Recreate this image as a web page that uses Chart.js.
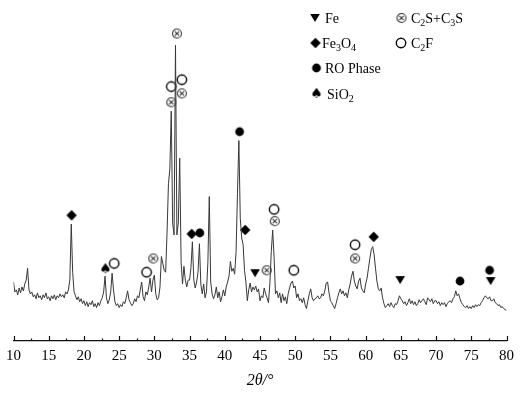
<!DOCTYPE html>
<html>
<head>
<meta charset="utf-8">
<script src="https://cdn.jsdelivr.net/npm/chart.js@4.4.1/dist/chart.umd.min.js"></script>
<style>
  html, body { margin: 0; padding: 0; background: #fff; }
  #wrap { width: 520px; height: 398px; position: relative; }
</style>
</head>
<body>
<div id="wrap"><canvas id="xrd"></canvas></div>
<script>
// XRD scan, 10-80 deg, one reading every 0.2 deg
const thetaStart = 10;
const thetaStep = 0.2;
const intensity = [
  60, 50, 52, 47, 54,   49, 55, 51, 58, 62,   74, 52, 48, 50, 45,   47, 43, 49, 44, 46,
  42, 47, 44, 49, 43,   45, 41, 46, 43, 47,   42, 46, 44, 48, 45,   47, 44, 50, 48, 52,
  62, 119, 70, 50, 46,  42, 45, 40, 43, 38,   41, 36, 40, 35, 39,   37, 41, 35, 38, 34,
  39, 36, 41, 44, 50,   66, 44, 38, 42, 50,   69, 52, 40, 36, 38,   34, 37, 35, 40, 38,
  44, 51, 42, 39, 36,   38, 43, 40, 46, 44,   52, 60, 45, 41, 50,   47, 55, 64, 50, 62,
  67, 48, 42, 44, 55,   86, 79, 72, 70, 110,  160, 175, 234, 120, 108, 301, 108, 120, 186, 80,
  58, 76, 62, 55, 62,   62, 75, 101, 62, 54,  60, 70, 99, 58, 48,   58, 44, 50, 80, 147,
  60, 48, 43, 47, 55,   44, 50, 40, 45, 52,   46, 55, 60, 66, 81,   71, 74, 68, 90, 150,
  204, 125, 105, 98, 72, 60, 41, 52, 59, 50,  55, 52, 56, 50, 53,   41, 46, 44, 54, 48,
  44, 39, 58, 91, 113,  85, 48, 51, 44, 49,   39, 48, 41, 45, 38,   48, 54, 59, 61, 54,
  56, 44, 48, 41, 43,   39, 44, 37, 33, 41,   48, 53, 44, 41, 43,   44, 46, 43, 44, 48,
  46, 51, 59, 60, 49,   41, 39, 36, 33, 38,   44, 49, 53, 48, 51,   46, 49, 44, 52, 58,
  66, 71, 61, 56, 53,   61, 64, 54, 51, 49,   58, 64, 74, 84, 93,   96, 88, 74, 61, 53,
  51, 54, 44, 38, 34,   36, 38, 35, 39, 36,   34, 38, 37, 41, 46,   43, 41, 38, 40, 36,
  39, 43, 38, 41, 37,   40, 36, 38, 42, 39,   41, 43, 40, 37, 44,   42, 40, 43, 38, 41,
  41, 38, 40, 36, 39,   37, 39, 35, 38, 40,   41, 39, 43, 45, 51,   46, 48, 43, 39, 37,
  35, 34, 36, 33, 35,   33, 36, 34, 37, 35,   37, 36, 39, 41, 44,   46, 44, 43, 45, 41,
  41, 43, 39, 38, 36,   37, 34, 35, 33, 32,   31
];
const twoTheta = intensity.map((_, i) => +(thetaStart + i * thetaStep).toFixed(1));

// phase markers: peak position and height where the symbol sits
const feTheta = [44.3, 64.9, 77.75];
const feLevel = [69, 62, 61];
const fe3o4Theta = [18.25, 35.3, 42.9, 61.15];
const fe3o4Level = [128, 109, 113, 106];
const roTheta = [36.45, 42.1, 73.4, 77.6];
const roLevel = [110, 213, 61, 72];
const sio2Theta = [23.05];
const sio2Level = [73];
const csTheta = [29.85, 32.4, 33.2, 33.9, 45.95, 47.1, 58.5];
const csLevel = [84, 243, 313, 252, 72, 122, 84];
const c2fTheta = [24.3, 28.9, 32.4, 33.9, 47.0, 49.8, 58.5];
const c2fLevel = [79, 70, 259, 266, 134, 72, 98];

const xTicks = [10, 15, 20, 25, 30, 35, 40, 45, 50, 55, 60, 65, 70, 75, 80];

const serif = "'Liberation Serif', 'Times New Roman', serif";

function makeMarker(kind) {
    const c = document.createElement('canvas');
    c.width = 14;
    c.height = 14;
    const g = c.getContext('2d');
    const m = 7;
    g.fillStyle = '#000';
    g.strokeStyle = '#000';
    g.beginPath();
    if (kind === 'down') {
        g.moveTo(m - 4.8, m - 4);
        g.lineTo(m + 4.8, m - 4);
        g.lineTo(m, m + 4);
        g.closePath();
        g.fill();
    } else if (kind === 'diamond') {
        g.moveTo(m, m - 5.2);
        g.lineTo(m + 5.2, m);
        g.lineTo(m, m + 5.2);
        g.lineTo(m - 5.2, m);
        g.closePath();
        g.fill();
    } else if (kind === 'dot') {
        g.arc(m, m, 4.4, 0, Math.PI * 2);
        g.fill();
    } else if (kind === 'spade') {
        g.font = "14px 'DejaVu Sans'";
        g.textAlign = 'center';
        g.textBaseline = 'middle';
        g.fillText('\u2660', m, m + 0.5);
    } else if (kind === 'cross') {
        g.strokeStyle = '#333';
        g.lineWidth = 1.1;
        g.arc(m, m, 4.5, 0, Math.PI * 2);
        g.stroke();
        g.beginPath();
        g.moveTo(m - 2.2, m - 2.2);
        g.lineTo(m + 2.2, m + 2.2);
        g.moveTo(m + 2.2, m - 2.2);
        g.lineTo(m - 2.2, m + 2.2);
        g.stroke();
    } else if (kind === 'ring') {
        g.lineWidth = 1.4;
        g.arc(m, m, 4.7, 0, Math.PI * 2);
        g.stroke();
    }
    return c;
}

const markers = {
    down: makeMarker('down'),
    diamond: makeMarker('diamond'),
    dot: makeMarker('dot'),
    spade: makeMarker('spade'),
    cross: makeMarker('cross'),
    ring: makeMarker('ring')
};

function toPoints(xs, ys) {
    return xs.map((x, i) => ({ x: x, y: ys[i] }));
}

function markerSet(label, xs, ys, style) {
    return {
        label: label,
        data: toPoints(xs, ys),
        showLine: false,
        pointStyle: markers[style],
        pointRadius: 5,
        pointHoverRadius: 5
    };
}

// legend entries: marker, text pieces [text, isSubscript]
const legendItems = [
    { m: 'down', x: 315, y: 18, tx: 325, parts: [['Fe', false]] },
    { m: 'diamond', x: 315.5, y: 43, tx: 322, parts: [['Fe', false], ['3', true], ['O', false], ['4', true]] },
    { m: 'dot', x: 316.5, y: 68, tx: 325, parts: [['RO Phase', false]] },
    { m: 'spade', x: 316.5, y: 94, tx: 327, parts: [['SiO', false], ['2', true]] },
    { m: 'cross', x: 401.5, y: 18, tx: 411, parts: [['C', false], ['2', true], ['S+C', false], ['3', true], ['S', false]] },
    { m: 'ring', x: 401, y: 43, tx: 411, parts: [['C', false], ['2', true], ['F', false]] }
];

const decorPlugin = {
    id: 'decor',
    afterDraw(chart) {
        const ctx = chart.ctx;
        const xs = chart.scales.x;
        const base = xs.top;
        ctx.save();
        ctx.strokeStyle = '#111';
        ctx.lineWidth = 1.2;
        for (let v = 10; v <= 80; v += 2.5) {
            const px = Math.round(xs.getPixelForValue(v)) + 0.5;
            const len = v % 5 === 0 ? 5 : 2.5;
            ctx.beginPath();
            ctx.moveTo(px, base);
            ctx.lineTo(px, base - len);
            ctx.stroke();
        }

        ctx.fillStyle = '#000';
        ctx.textBaseline = 'alphabetic';
        legendItems.forEach(item => {
            const mk = markers[item.m];
            ctx.drawImage(mk, item.x - mk.width / 2, item.y - mk.height / 2);
            let tx = item.tx;
            item.parts.forEach(([txt, sub]) => {
                ctx.font = sub ? `10px ${serif}` : `14px ${serif}`;
                ctx.fillText(txt, tx, item.y + 5 + (sub ? 3 : 0));
                tx += ctx.measureText(txt).width;
            });
        });
        ctx.restore();
    }
};

new Chart(document.getElementById('xrd'), {
    type: 'line',
    data: {
        datasets: [
            {
                label: 'XRD',
                data: toPoints(twoTheta, intensity),
                borderColor: '#383838',
                borderWidth: 1,
                pointRadius: 0,
                tension: 0,
                fill: false
            },
            markerSet('Fe', feTheta, feLevel, 'down'),
            markerSet('Fe3O4', fe3o4Theta, fe3o4Level, 'diamond'),
            markerSet('RO Phase', roTheta, roLevel, 'dot'),
            markerSet('SiO2', sio2Theta, sio2Level, 'spade'),
            markerSet('C2S+C3S', csTheta, csLevel, 'cross'),
            markerSet('C2F', c2fTheta, c2fLevel, 'ring')
        ]
    },
    options: {
        responsive: true,
        maintainAspectRatio: false,
        animation: false,
        layout: { padding: { left: 10, right: 11, top: 0, bottom: 0 } },
        plugins: {
            legend: { display: false },
            tooltip: { enabled: false }
        },
        scales: {
            x: {
                type: 'linear',
                min: 10,
                max: 80,
                afterBuildTicks: scale => {
                    scale.ticks = xTicks.map(v => ({ value: v }));
                },
                afterFit: scale => {
                    scale.height = 57;
                },
                grid: { display: false, drawTicks: false },
                border: { display: true, color: '#111', width: 1.3 },
                ticks: {
                    color: '#000',
                    padding: 6,
                    maxRotation: 0,
                    autoSkip: false,
                    font: { family: serif, size: 15 }
                },
                title: {
                    display: true,
                    text: '2\u03b8/\u00b0',
                    color: '#000',
                    font: { family: serif, size: 16, style: 'italic' },
                    padding: { top: 0, bottom: 8 }
                }
            },
            y: {
                display: false,
                min: 0,
                max: 341
            }
        }
    },
    plugins: [decorPlugin]
});
</script>
</body>
</html>
